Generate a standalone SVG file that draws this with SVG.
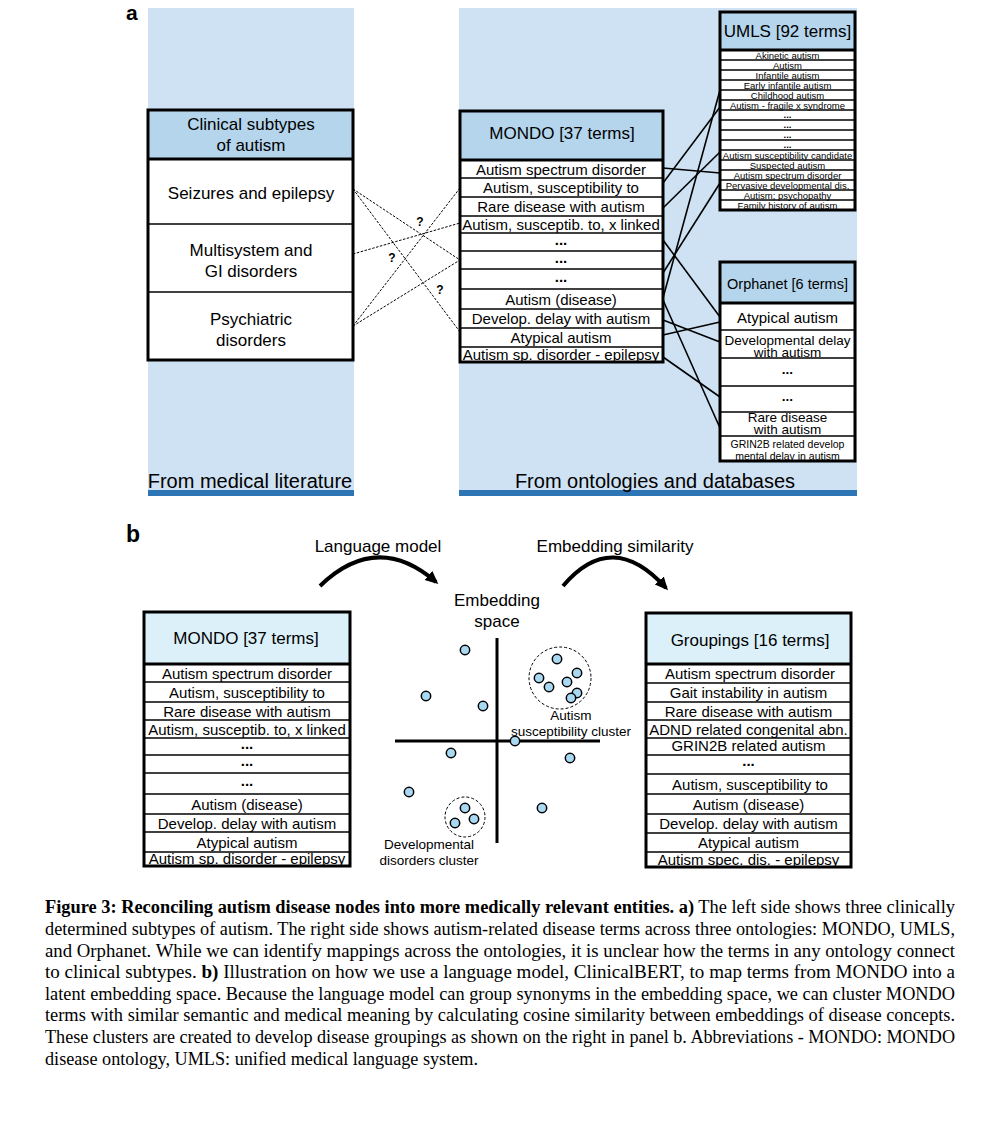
<svg xmlns="http://www.w3.org/2000/svg" width="1007" height="1134" viewBox="0 0 1007 1134">
<defs>
<style>
.bg{fill:#cfe2f3}
.bar{fill:#2e75b6}
.hdr{fill:#b4d5ec}
.hdrb{fill:#dcf0fa}
.white{fill:#fff}
.frame{fill:none;stroke:#000;stroke-width:3}
.rl{stroke:#000;stroke-width:1.5}
.hl{stroke:#000;stroke-width:3}
.t{font-family:"Liberation Sans",Arial,sans-serif;fill:#000;text-anchor:middle}
.f17{font-size:17px}
.f15{font-size:15px}
.f14{font-size:14.5px}
.f13{font-size:13.5px}
.f10{font-size:10.5px}
.f9{font-size:9.5px}
.dots{font-weight:bold}
.lbl{font-family:"Liberation Sans",Arial,sans-serif;font-weight:bold;fill:#000}
.dash{stroke:#000;stroke-width:1;stroke-dasharray:2.5,1.5;fill:none}
.conn{stroke:#000;stroke-width:1.6;fill:none}
.q{font-family:"Liberation Sans",Arial,sans-serif;font-size:12px;font-weight:bold;fill:#000;text-anchor:middle}
.dot{fill:#a9d9f2;stroke:#000;stroke-width:1.5}
.clu{fill:none;stroke:#000;stroke-width:1;stroke-dasharray:3,2}
.axis{stroke:#000;stroke-width:3}
.arc{fill:none;stroke:#000;stroke-width:4}
.cap{font-family:"Liberation Serif","Times New Roman",serif;font-size:18px;fill:#000}
.b{font-weight:bold}
</style>
<marker id="ah" markerUnits="userSpaceOnUse" markerWidth="14" markerHeight="14" viewBox="0 0 14 14" refX="10" refY="7" orient="auto">
<path d="M0,1 L13,7 L0,13 Z" fill="#000"/>
</marker>
</defs>
<rect width="1007" height="1134" fill="#fff"/>

<g id="panel-a-bg">
<text class="lbl" x="126" y="20" font-size="21">a</text>
<rect class="bg" x="148" y="8" width="206" height="483"/>
<rect class="bar" x="148" y="490" width="206" height="6"/>
<rect class="bg" x="459" y="8" width="398" height="483"/>
<rect class="bar" x="459" y="490" width="398" height="6"/>
<text class="t" x="250" y="488" font-size="20">From medical literature</text>
<text class="t" x="655" y="488" font-size="20">From ontologies and databases</text>
</g>

<g id="connectors">
<line class="dash" x1="353" y1="189" x2="460" y2="260"/>
<line class="dash" x1="353" y1="189" x2="460" y2="332"/>
<line class="dash" x1="353" y1="254" x2="460" y2="223"/>
<line class="dash" x1="353" y1="326" x2="460" y2="188"/>
<line class="dash" x1="353" y1="326" x2="460" y2="260"/>
<text class="q" x="420" y="226">?</text>
<text class="q" x="392" y="262">?</text>
<text class="q" x="440" y="294">?</text>

<line class="conn" x1="663" y1="168" x2="720" y2="173"/>
<line class="conn" x1="663" y1="183" x2="720" y2="107"/>
<line class="conn" x1="663" y1="208" x2="720" y2="152"/>
<line class="conn" x1="663" y1="273" x2="720" y2="183"/>
<line class="conn" x1="663" y1="298" x2="720" y2="90"/>
<line class="conn" x1="663" y1="240" x2="720" y2="317"/>
<line class="conn" x1="663" y1="320" x2="720" y2="342"/>
<line class="conn" x1="663" y1="335" x2="720" y2="322"/>
<line class="conn" x1="663" y1="357" x2="720" y2="397"/>
<line class="conn" x1="663" y1="300" x2="720" y2="428"/>

<path class="arc" d="M320,586 Q377,531 436,582" marker-end="url(#ah)"/>
<path class="arc" d="M563,586 Q612,528 666,588" marker-end="url(#ah)"/>
</g>

<g id="clinical">
<rect class="white" x="148" y="110" width="205" height="250"/>
<rect class="hdr" x="148" y="110" width="205" height="49"/>
<line class="hl" x1="148" y1="159" x2="353" y2="159"/>
<line class="rl" x1="148" y1="224" x2="353" y2="224" stroke-width="2"/>
<line class="rl" x1="148" y1="292" x2="353" y2="292" stroke-width="2"/>
<rect class="frame" x="148" y="110" width="205" height="250"/>
<text class="t f17" x="251" y="130">Clinical subtypes</text>
<text class="t f17" x="251" y="151">of autism</text>
<text class="t f17" x="251" y="199">Seizures and epilepsy</text>
<text class="t f17" x="251" y="256">Multisystem and</text>
<text class="t f17" x="251" y="277">GI disorders</text>
<text class="t f17" x="251" y="325">Psychiatric</text>
<text class="t f17" x="251" y="346">disorders</text>
</g>

<g id="mondo-a">
<rect class="white" x="460" y="111" width="203" height="251"/>
<rect class="hdr" x="460" y="111" width="203" height="49"/>
<line class="hl" x1="460" y1="160" x2="663" y2="160"/>
<g class="rl">
<line x1="460" y1="178" x2="663" y2="178"/><line x1="460" y1="197" x2="663" y2="197"/>
<line x1="460" y1="216" x2="663" y2="216"/><line x1="460" y1="233" x2="663" y2="233"/>
<line x1="460" y1="251" x2="663" y2="251"/><line x1="460" y1="269" x2="663" y2="269"/>
<line x1="460" y1="289" x2="663" y2="289"/><line x1="460" y1="309" x2="663" y2="309"/>
<line x1="460" y1="328" x2="663" y2="328"/><line x1="460" y1="347" x2="663" y2="347"/>
</g>
<rect class="frame" x="460" y="111" width="203" height="251"/>
<text class="t f17" x="562" y="139">MONDO [37 terms]</text>
<text class="t f15" x="561" y="174.5">Autism spectrum disorder</text>
<text class="t f15" x="561" y="193">Autism, susceptibility to</text>
<text class="t f15" x="561" y="212">Rare disease with autism</text>
<text class="t f15" x="561" y="230">Autism, susceptib. to, x linked</text>
<text class="t f15 dots" x="561" y="245">...</text>
<text class="t f15 dots" x="561" y="263">...</text>
<text class="t f15 dots" x="561" y="282">...</text>
<text class="t f15" x="561" y="304.5">Autism (disease)</text>
<text class="t f15" x="561" y="324">Develop. delay with autism</text>
<text class="t f15" x="561" y="343">Atypical autism</text>
<text class="t f15" x="561" y="360">Autism sp. disorder - epilepsy</text>
</g>

<g id="umls">
<rect class="white" x="720" y="12" width="135" height="198"/>
<rect class="hdr" x="720" y="12" width="135" height="38"/>
<line class="hl" x1="720" y1="50" x2="855" y2="50"/>
<g class="rl" stroke-width="1.2">
<line x1="720" y1="60" x2="855" y2="60"/><line x1="720" y1="70" x2="855" y2="70"/>
<line x1="720" y1="80" x2="855" y2="80"/><line x1="720" y1="90" x2="855" y2="90"/>
<line x1="720" y1="100" x2="855" y2="100"/><line x1="720" y1="110" x2="855" y2="110"/>
<line x1="720" y1="120" x2="855" y2="120"/><line x1="720" y1="130" x2="855" y2="130"/>
<line x1="720" y1="140" x2="855" y2="140"/><line x1="720" y1="150" x2="855" y2="150"/>
<line x1="720" y1="160" x2="855" y2="160"/><line x1="720" y1="170" x2="855" y2="170"/>
<line x1="720" y1="180" x2="855" y2="180"/><line x1="720" y1="190" x2="855" y2="190"/>
<line x1="720" y1="200" x2="855" y2="200"/>
</g>
<rect class="frame" x="720" y="12" width="135" height="198"/>
<text class="t f17" x="787.5" y="37">UMLS [92 terms]</text>
<text class="t f9" x="787.5" y="59">Akinetic autism</text>
<text class="t f9" x="787.5" y="69">Autism</text>
<text class="t f9" x="787.5" y="79">Infantile autism</text>
<text class="t f9" x="787.5" y="89">Early infantile autism</text>
<text class="t f9" x="787.5" y="99">Childhood autism</text>
<text class="t f9" x="787.5" y="109">Autism - fragile x syndrome</text>
<text class="t f9 dots" x="787.5" y="118">...</text>
<text class="t f9 dots" x="787.5" y="128">...</text>
<text class="t f9 dots" x="787.5" y="138">...</text>
<text class="t f9 dots" x="787.5" y="148">...</text>
<text class="t f9" x="787.5" y="159">Autism susceptibility candidate</text>
<text class="t f9" x="787.5" y="169">Suspected autism</text>
<text class="t f9" x="787.5" y="179">Autism spectrum disorder</text>
<text class="t f9" x="787.5" y="189">Pervasive developmental dis.</text>
<text class="t f9" x="787.5" y="199">Autism; psychopathy</text>
<text class="t f9" x="787.5" y="209">Family history of autism</text>
</g>

<g id="orphanet">
<rect class="white" x="720" y="262" width="135" height="199"/>
<rect class="hdr" x="720" y="262" width="135" height="41"/>
<line class="hl" x1="720" y1="303" x2="855" y2="303"/>
<g class="rl">
<line x1="720" y1="330" x2="855" y2="330"/><line x1="720" y1="358" x2="855" y2="358"/>
<line x1="720" y1="386" x2="855" y2="386"/><line x1="720" y1="412" x2="855" y2="412"/>
<line x1="720" y1="436" x2="855" y2="436"/>
</g>
<rect class="frame" x="720" y="262" width="135" height="199"/>
<text class="t f14" x="787.5" y="289">Orphanet [6 terms]</text>
<text class="t f15" x="787.5" y="323">Atypical autism</text>
<text class="t f13" x="787.5" y="344.5">Developmental delay</text>
<text class="t f13" x="787.5" y="357">with autism</text>
<text class="t f13 dots" x="787.5" y="374">...</text>
<text class="t f13 dots" x="787.5" y="401">...</text>
<text class="t f13" x="787.5" y="421.5">Rare disease</text>
<text class="t f13" x="787.5" y="434">with autism</text>
<text class="t f10" x="787.5" y="447.5">GRIN2B related develop</text>
<text class="t f10" x="787.5" y="460">mental delay in autism</text>
</g>

<g id="panel-b-labels">
<text class="lbl" x="126" y="542" font-size="23">b</text>
<text class="t f17" x="378" y="552">Language model</text>
<text class="t f17" x="615" y="552">Embedding similarity</text>
</g>

<g id="mondo-b">
<rect class="white" x="144" y="612" width="206" height="254"/>
<rect class="hdrb" x="144" y="612" width="206" height="52"/>
<line class="hl" x1="144" y1="664" x2="350" y2="664"/>
<g class="rl">
<line x1="144" y1="682" x2="350" y2="682"/><line x1="144" y1="702" x2="350" y2="702"/>
<line x1="144" y1="720" x2="350" y2="720"/><line x1="144" y1="738" x2="350" y2="738"/>
<line x1="144" y1="755" x2="350" y2="755"/><line x1="144" y1="773" x2="350" y2="773"/>
<line x1="144" y1="794" x2="350" y2="794"/><line x1="144" y1="814" x2="350" y2="814"/>
<line x1="144" y1="832" x2="350" y2="832"/><line x1="144" y1="852" x2="350" y2="852"/>
</g>
<rect class="frame" x="144" y="612" width="206" height="254"/>
<text class="t f17" x="246" y="644">MONDO [37 terms]</text>
<text class="t f15" x="247" y="678.5">Autism spectrum disorder</text>
<text class="t f15" x="247" y="697.5">Autism, susceptibility to</text>
<text class="t f15" x="247" y="716.5">Rare disease with autism</text>
<text class="t f15" x="247" y="734.5">Autism, susceptib. to, x linked</text>
<text class="t f15 dots" x="247" y="749">...</text>
<text class="t f15 dots" x="247" y="766">...</text>
<text class="t f15 dots" x="247" y="786">...</text>
<text class="t f15" x="247" y="809.5">Autism (disease)</text>
<text class="t f15" x="247" y="828.5">Develop. delay with autism</text>
<text class="t f15" x="247" y="847.5">Atypical autism</text>
<text class="t f15" x="247" y="864">Autism sp. disorder - epilepsy</text>
</g>

<g id="groupings">
<rect class="white" x="646" y="613" width="205" height="254"/>
<rect class="hdrb" x="646" y="613" width="205" height="51"/>
<line class="hl" x1="646" y1="664" x2="851" y2="664"/>
<g class="rl">
<line x1="646" y1="683" x2="851" y2="683"/><line x1="646" y1="702" x2="851" y2="702"/>
<line x1="646" y1="720" x2="851" y2="720"/><line x1="646" y1="738" x2="851" y2="738"/>
<line x1="646" y1="755" x2="851" y2="755"/><line x1="646" y1="774" x2="851" y2="774"/>
<line x1="646" y1="794" x2="851" y2="794"/><line x1="646" y1="814" x2="851" y2="814"/>
<line x1="646" y1="833" x2="851" y2="833"/><line x1="646" y1="852" x2="851" y2="852"/>
</g>
<rect class="frame" x="646" y="613" width="205" height="254"/>
<text class="t f17" x="750" y="646">Groupings [16 terms]</text>
<text class="t f15" x="750" y="679">Autism spectrum disorder</text>
<text class="t f15" x="748.5" y="698">Gait instability in autism</text>
<text class="t f15" x="748.5" y="716.5">Rare disease with autism</text>
<text class="t f15" x="748.5" y="734.5">ADND related congenital abn.</text>
<text class="t f15" x="748.5" y="750.5">GRIN2B related autism</text>
<text class="t f15 dots" x="748.5" y="766">...</text>
<text class="t f15" x="750" y="790">Autism, susceptibility to</text>
<text class="t f15" x="748.5" y="809.5">Autism (disease)</text>
<text class="t f15" x="748.5" y="829">Develop. delay with autism</text>
<text class="t f15" x="748.5" y="848">Atypical autism</text>
<text class="t f15" x="748.5" y="865">Autism spec. dis. - epilepsy</text>
</g>

<g id="embedding">
<text class="t f17" x="497" y="606">Embedding</text>
<text class="t f17" x="497" y="627">space</text>
<line class="axis" x1="497" y1="638" x2="497" y2="843"/>
<line class="axis" x1="395" y1="741" x2="600" y2="741"/>
<circle class="clu" cx="560" cy="678" r="31"/>
<circle class="clu" cx="465" cy="817" r="20"/>
<circle class="dot" cx="465" cy="650" r="4.7"/>
<circle class="dot" cx="426" cy="696" r="4.7"/>
<circle class="dot" cx="483" cy="706" r="4.7"/>
<circle class="dot" cx="451" cy="753" r="4.7"/>
<circle class="dot" cx="515" cy="741" r="4.7"/>
<circle class="dot" cx="570" cy="758" r="4.7"/>
<circle class="dot" cx="409" cy="792" r="4.7"/>
<circle class="dot" cx="542" cy="808" r="4.7"/>
<circle class="dot" cx="557" cy="659" r="4.7"/>
<circle class="dot" cx="539" cy="678" r="4.7"/>
<circle class="dot" cx="549" cy="687" r="4.7"/>
<circle class="dot" cx="567" cy="682" r="4.7"/>
<circle class="dot" cx="577" cy="673" r="4.7"/>
<circle class="dot" cx="577" cy="693" r="4.7"/>
<circle class="dot" cx="571" cy="698" r="4.7"/>
<circle class="dot" cx="465" cy="808" r="4.7"/>
<circle class="dot" cx="474" cy="819" r="4.7"/>
<circle class="dot" cx="455" cy="823" r="4.7"/>
<text class="t f13" x="571" y="720">Autism</text>
<text class="t f13" x="571" y="736">susceptibility cluster</text>
<text class="t f13" x="429" y="849">Developmental</text>
<text class="t f13" x="429" y="865">disorders cluster</text>
</g>

<g id="caption">
<text class="cap" x="45" y="913" textLength="910" lengthAdjust="spacingAndGlyphs"><tspan class="b">Figure 3: Reconciling autism disease nodes into more medically relevant entities. a)</tspan> The left side shows three clinically</text>
<text class="cap" x="45" y="935" textLength="910" lengthAdjust="spacingAndGlyphs">determined subtypes of autism. The right side shows autism-related disease terms across three ontologies: MONDO, UMLS,</text>
<text class="cap" x="45" y="957" textLength="910" lengthAdjust="spacingAndGlyphs">and Orphanet.  While we can identify mappings across the ontologies, it is unclear how the terms in any ontology connect</text>
<text class="cap" x="45" y="978" textLength="910" lengthAdjust="spacingAndGlyphs">to clinical subtypes.  <tspan class="b">b)</tspan> Illustration on how we use a language model, ClinicalBERT, to map terms from MONDO into a</text>
<text class="cap" x="45" y="1000" textLength="910" lengthAdjust="spacingAndGlyphs">latent embedding space. Because the language model can group synonyms in the embedding space, we can cluster MONDO</text>
<text class="cap" x="45" y="1021" textLength="910" lengthAdjust="spacingAndGlyphs">terms with similar semantic and medical meaning by calculating cosine similarity between embeddings of disease concepts.</text>
<text class="cap" x="45" y="1043" textLength="910" lengthAdjust="spacingAndGlyphs">These clusters are created to develop disease groupings as shown on the right in panel b. Abbreviations - MONDO: MONDO</text>
<text class="cap" x="45" y="1065" textLength="433" lengthAdjust="spacingAndGlyphs">disease ontology, UMLS: unified medical language system.</text>
</g>
</svg>
